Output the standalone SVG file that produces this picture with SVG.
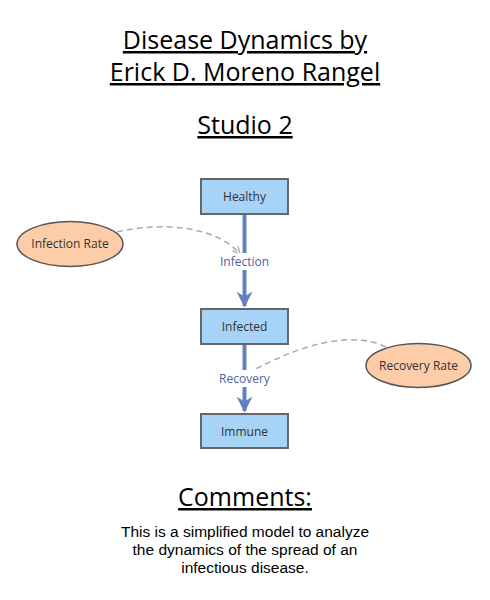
<svg xmlns="http://www.w3.org/2000/svg" width="490" height="600" viewBox="0 0 490 600">
<defs>
<style>
text{font-family:"Comic Sans MS","Open Sans","DejaVu Sans",sans-serif;text-anchor:middle;fill:#000}
.title{font-size:25px;text-decoration:underline}
.stock{fill:#a6d3f6;stroke:#666;stroke-width:2}
.var{fill:#fdcca8;stroke:#555;stroke-width:1.5}
.lbl{font-size:12px;fill:#333}
.flow{stroke:#6580c0;stroke-width:4;fill:none}
.flbl{font-size:12px;fill:#4b62a6}
.link{stroke:#aaa;stroke-width:1.5;stroke-dasharray:6 4;fill:none}
.body{font-family:"Comic Sans MS","Liberation Sans",sans-serif;font-size:15.5px}
</style>
<marker id="fa" viewBox="0 0 10 10" refX="9" refY="5" markerWidth="4" markerHeight="4" orient="auto" markerUnits="strokeWidth"><path d="M0,0 L10,5 L0,10 L3,5 Z" fill="#6580c0"/></marker>
<marker id="la" viewBox="0 0 10 10" refX="9" refY="5" markerWidth="6" markerHeight="6" orient="auto" markerUnits="strokeWidth"><path d="M1,1 L9,5 L1,9" fill="none" stroke="#aaa" stroke-width="1.5"/></marker>
</defs>
<rect width="490" height="600" fill="#fff"/>
<g id="title">
<text class="title" x="245" y="49">Disease Dynamics by</text>
<text class="title" x="245" y="81">Erick D. Moreno Rangel</text>
<text class="title" x="245" y="134">Studio 2</text>
</g>
<g id="connectors">
<path class="flow" d="M244.5,214 V306" marker-end="url(#fa)"/>
<path class="flow" d="M244.5,344 V411" marker-end="url(#fa)"/>
<path class="link" d="M117,232 C160,222 215,225 240,254" marker-end="url(#la)"/>
<path class="link" d="M386,347 C350,330 300,345 250,372"/>
<rect x="215" y="253" width="59" height="17" fill="#fff"/>
<text class="flbl" x="244.5" y="266">Infection</text>
<rect x="217" y="370" width="55" height="17" fill="#fff"/>
<text class="flbl" x="244.5" y="383">Recovery</text>
</g>
<g id="healthy"><rect class="stock" x="201" y="179" width="87" height="35"/><text class="lbl" x="244.5" y="201">Healthy</text></g>
<g id="infected"><rect class="stock" x="201" y="309" width="87" height="35"/><text class="lbl" x="244.5" y="331">Infected</text></g>
<g id="immune"><rect class="stock" x="201" y="414" width="87" height="34"/><text class="lbl" x="244.5" y="436">Immune</text></g>
<g id="infection-rate"><ellipse class="var" cx="70" cy="244" rx="53" ry="22.5"/><text class="lbl" x="70" y="248">Infection Rate</text></g>
<g id="recovery-rate"><ellipse class="var" cx="418.5" cy="365.5" rx="52.5" ry="22"/><text class="lbl" x="418.5" y="370">Recovery Rate</text></g>
<g id="comments">
<text class="title" x="245" y="506">Comments:</text>
<text class="body" x="245" y="537">This is a simplified model to analyze</text>
<text class="body" x="245" y="555">the dynamics of the spread of an</text>
<text class="body" x="245" y="573">infectious disease.</text>
</g>
</svg>
